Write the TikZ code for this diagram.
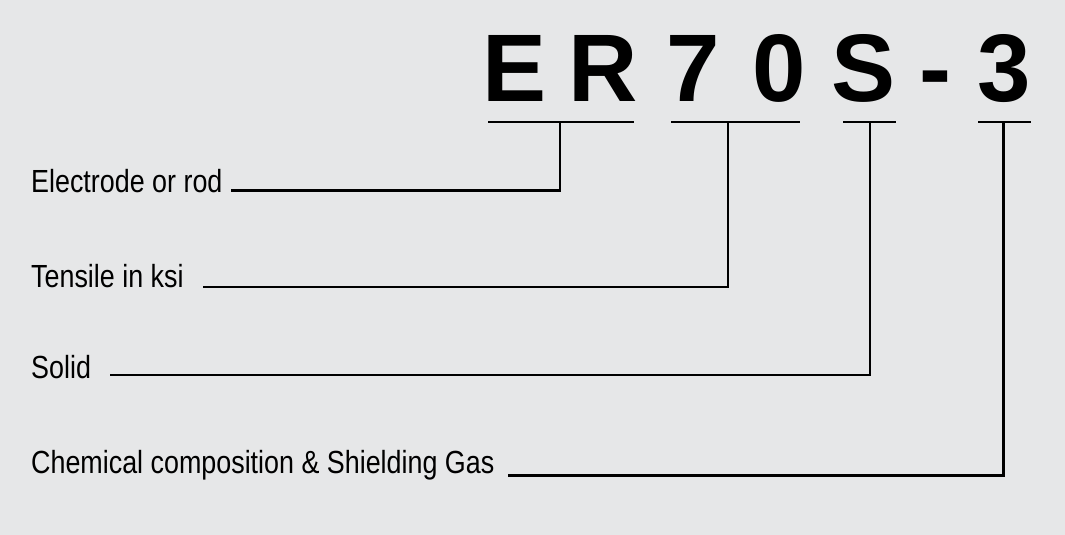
\documentclass[tikz,border=0pt]{standalone}
\usepackage{fontspec}
\setmainfont{Liberation Sans}
\newfontfamily\narrowfont{Liberation Sans}[FakeStretch=0.84]
\definecolor{panel}{RGB}{230,231,232}

\begin{document}
\begin{tikzpicture}[x=1pt, y=-1pt,
  code/.style={anchor=base, inner sep=0pt, font=\fontsize{96}{100}\selectfont\bfseries},
  desc/.style={anchor=base west, inner sep=0pt, font=\narrowfont\fontsize{32}{36}\selectfont},
  lead/.style={line width=2.2pt, black}
  ]
  \fill[panel] (0,0) rectangle (1065,535);

  \node[code] (E) at (514.5,101) {E};
  \node[code] (R) at (603,101) {R};
  \node[code] (seven) at (693,101) {7};
  \node[code] (zero) at (779,101) {0};
  \node[code] (S) at (864,101) {S};
  \node[code] (dash) at (935,101) {-};
  \node[code] (three) at (1004,101) {3};

  \node[desc] (rod) at (31,192) {Electrode or rod};
  \node[desc] (ksi) at (31,287) {Tensile in ksi};
  \node[desc] (solid) at (31,378) {Solid};
  \node[desc] (gas) at (31,473) {Chemical composition \& Shielding Gas};

  \coordinate (ERl) at (488,122);
  \coordinate (ERr) at (634,122);
  \coordinate (ERm) at (560,122);
  \coordinate (SVl) at (671,122);
  \coordinate (SVr) at (800,122);
  \coordinate (SVm) at (728,122);
  \coordinate (Sl) at (843,122);
  \coordinate (Sr) at (896,122);
  \coordinate (Sm) at (870,122);
  \coordinate (THl) at (978,122);
  \coordinate (THr) at (1031,122);
  \coordinate (THm) at (1003.5,122);

  \coordinate (rodL) at (231,190.5);
  \coordinate (ksiL) at (203,287);
  \coordinate (solidL) at (110,375);
  \coordinate (gasL) at (508,475.5);

  \draw[lead] (ERl) -- (ERr);
  \draw[lead] (SVl) -- (SVr);
  \draw[lead] (Sl) -- (Sr);
  \draw[lead] (THl) -- (THr);

  \draw[lead] (rodL) -| (ERm);
  \draw[lead] (ksiL) -| (SVm);
  \draw[lead] (solidL) -| (Sm);
  \draw[lead] (gasL) -| (THm);
\end{tikzpicture}
\end{document}
